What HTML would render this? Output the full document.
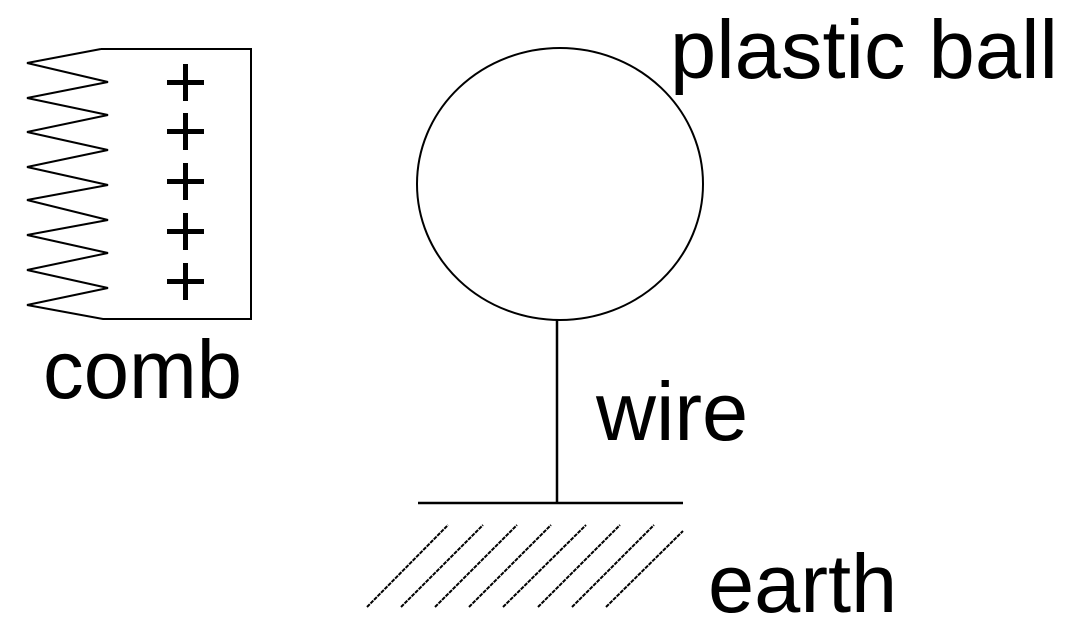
<!DOCTYPE html>
<html><head><style>html,body{margin:0;padding:0;background:#fff}svg{display:block}</style></head>
<body>
<svg width="1085" height="641" viewBox="0 0 1085 641" xmlns="http://www.w3.org/2000/svg">
<g fill="none" stroke="#000" stroke-width="2">
<polyline points="101,49 27,63 108,82 27,98 108,115 27,132 108,150 27,167 108,185 27,200 108,220 27,235 108,253 27,270 108,288 27,305 103,319 251,319 251,49 101,49"/>
<ellipse cx="560" cy="184" rx="143" ry="136"/>
<line x1="557" y1="320" x2="557" y2="503" stroke-width="2.5"/>
<line x1="418" y1="503" x2="683" y2="503" stroke-width="2.5"/>
<g stroke-width="2" stroke-dasharray="4,1">
<line x1="367" y1="607" x2="448" y2="525"/>
<line x1="401" y1="607" x2="483" y2="525"/>
<line x1="435" y1="607" x2="517" y2="525"/>
<line x1="469" y1="607" x2="551" y2="525"/>
<line x1="503" y1="607" x2="586" y2="525"/>
<line x1="538" y1="607" x2="620" y2="525"/>
<line x1="572" y1="607" x2="654" y2="525"/>
<line x1="606" y1="607" x2="683" y2="531"/>
</g>
</g>
<g fill="#000">
<rect x="167" y="80" width="37" height="5"/><rect x="183" y="64" width="5" height="37"/>
<rect x="167" y="129" width="37" height="5"/><rect x="183" y="113" width="5" height="37"/>
<rect x="167" y="179" width="37" height="5"/><rect x="183" y="163" width="5" height="37"/>
<rect x="167" y="229" width="37" height="5"/><rect x="183" y="213" width="5" height="37"/>
<rect x="167" y="279" width="37" height="5"/><rect x="183" y="263" width="5" height="37"/>
</g>
<g font-family="'Liberation Sans', Arial, sans-serif" font-size="83" fill="#000">
<text x="670" y="78" textLength="388" lengthAdjust="spacingAndGlyphs">plastic ball</text>
<text x="43" y="398" textLength="199" lengthAdjust="spacingAndGlyphs">comb</text>
<text x="596" y="440">wire</text>
<text x="708" y="612">earth</text>
</g>
</svg>
</body></html>
